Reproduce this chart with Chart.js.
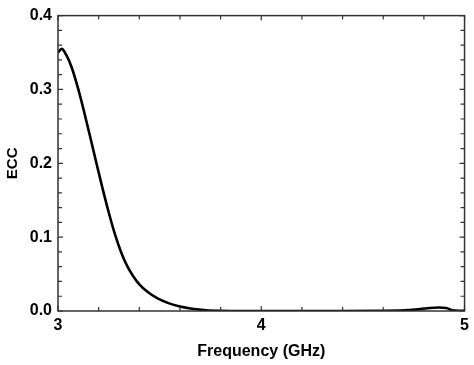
<!DOCTYPE html>
<html>
<head>
<meta charset="utf-8">
<script src="https://cdn.jsdelivr.net/npm/chart.js@4/dist/chart.umd.min.js"></script>
<style>
  html, body { margin: 0; padding: 0; background: #fff; }
  #wrap { width: 474px; height: 365px; }
</style>
</head>
<body>
<div id="wrap"><canvas id="ecc"></canvas></div>
<script>
// ECC vs frequency
const freqGHz = [3.0, 3.018, 3.04, 3.067, 3.10, 3.13, 3.16, 3.19, 3.22, 3.25, 3.28, 3.31,
  3.34, 3.37, 3.40, 3.44, 3.49, 3.54, 3.60, 3.66, 3.73, 3.80, 3.90, 4.0, 4.2, 4.4, 4.6,
  4.7, 4.76, 4.82, 4.87, 4.91, 4.94, 4.97, 5.0];
const eccValues = [0.350, 0.355, 0.347, 0.330, 0.300, 0.268, 0.234, 0.199, 0.165, 0.133, 0.104, 0.080,
  0.061, 0.047, 0.036, 0.026, 0.017, 0.011, 0.006, 0.003, 0.001, 0.0003, 0.0, 0.0, 0.0, 0.0, 0.0002,
  0.0008, 0.002, 0.0038, 0.0047, 0.004, 0.001, 0.0003, 0.0005];
const xTicks = [3, 4, 5];
const yTicks = [0.0, 0.1, 0.2, 0.3, 0.4];

const FONT = { family: "'Liberation Sans', Arial, sans-serif", size: 16, weight: 'bold' };
const AXIS = '#333';

// frame + inward ticks on all four sides (major and minor)
const frameTicks = {
  id: 'frameTicks',
  afterDraw(chart) {
    const { ctx, chartArea: a, scales: { x, y } } = chart;
    ctx.save();
    ctx.strokeStyle = AXIS;
    ctx.lineWidth = 1.5;
    ctx.strokeRect(a.left, a.top, a.right - a.left, a.bottom - a.top);
    ctx.lineWidth = 1.2;
    ctx.beginPath();
    for (let i = 0; i <= 10; i++) {
      const v = 3 + i * 0.2;
      const px = x.getPixelForValue(v);
      const len = i % 5 === 0 ? 5 : 4;
      ctx.moveTo(px, a.bottom); ctx.lineTo(px, a.bottom - len);
      ctx.moveTo(px, a.top); ctx.lineTo(px, a.top + len);
    }
    for (let i = 0; i <= 20; i++) {
      const v = i * 0.02;
      const py = y.getPixelForValue(v);
      const len = i % 5 === 0 ? 5 : 4;
      ctx.moveTo(a.left, py); ctx.lineTo(a.left + len, py);
      ctx.moveTo(a.right, py); ctx.lineTo(a.right - len, py);
    }
    ctx.stroke();
    ctx.restore();
  }
};

new Chart(document.getElementById('ecc'), {
  type: 'line',
  data: {
    datasets: [{
      label: 'ECC',
      data: freqGHz.map((f, i) => ({ x: f, y: eccValues[i] })),
      borderColor: '#000',
      borderWidth: 2.6,
      pointRadius: 0,
      fill: false,
      cubicInterpolationMode: 'monotone',
    }],
  },
  options: {
    responsive: true,
    maintainAspectRatio: false,
    animation: false,
    layout: { padding: { top: 11, right: 8, left: 0, bottom: 0 } },
    plugins: { legend: { display: false }, tooltip: { enabled: false } },
    scales: {
      x: {
        type: 'linear',
        min: 3,
        max: 5,
        afterBuildTicks: s => { s.ticks = xTicks.map(v => ({ value: v })); },
        afterFit: s => { s.height = 54; },
        grid: { display: false, drawTicks: false },
        border: { display: false },
        ticks: { color: '#000', font: FONT, padding: 5, callback: v => String(v) },
        title: { display: true, text: 'Frequency (GHz)', color: '#000', font: FONT, padding: { top: 7 } },
      },
      y: {
        min: 0,
        max: 0.4,
        afterBuildTicks: s => { s.ticks = yTicks.map(v => ({ value: v })); },
        afterFit: s => { s.width = 58; },
        grid: { display: false, drawTicks: false },
        border: { display: false },
        ticks: { color: '#000', font: FONT, padding: 6, callback: v => v.toFixed(1) },
        title: { display: true, text: 'ECC', color: '#000', font: { ...FONT, size: 15 }, padding: { bottom: 3 } },
      },
    },
  },
  plugins: [frameTicks],
});
</script>
</body>
</html>
